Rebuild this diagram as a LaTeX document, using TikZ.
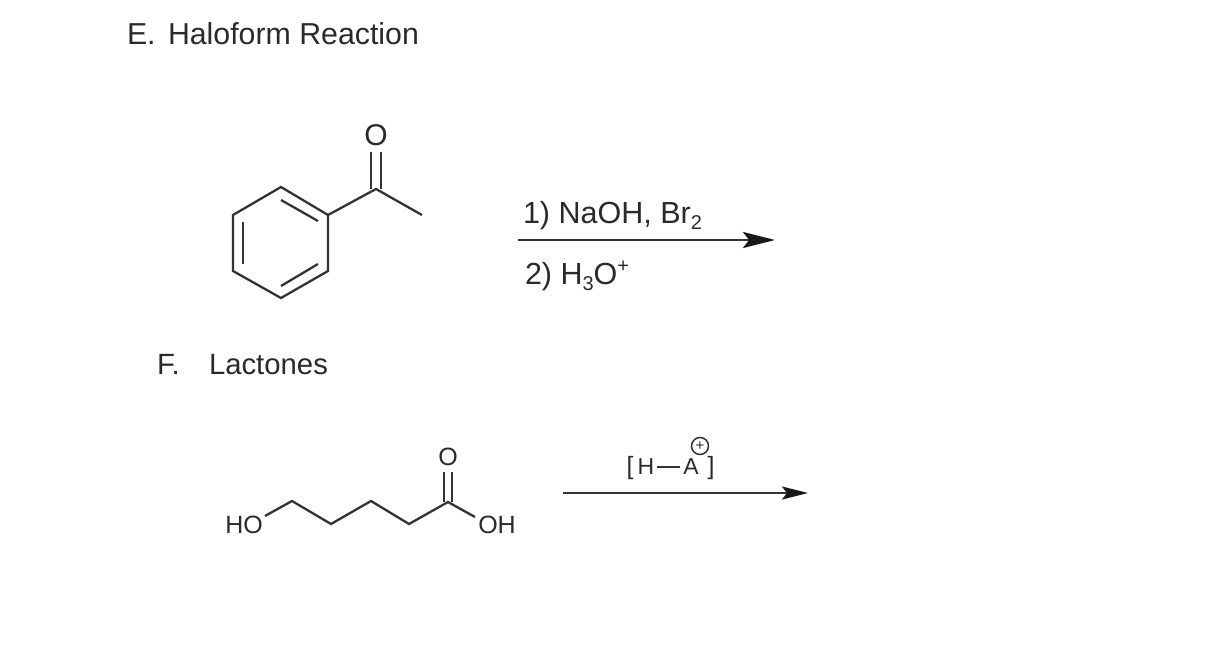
\documentclass[tikz,border=0pt]{standalone}
\usepackage{fontspec}
\setmainfont{Liberation Sans}
\usetikzlibrary{arrows.meta}
\definecolor{bondc}{HTML}{333333}
\definecolor{textc}{HTML}{2A2A2A}
\tikzset{
  bond/.style={draw=bondc,line width=2.3pt,line join=miter},
  rxnA/.style={draw=bondc,line width=2.1pt,-{Stealth[length=32pt,width=16pt,inset=6pt,color=black!90]}},
  rxnB/.style={draw=bondc,line width=2.1pt,-{Stealth[length=26pt,width=13pt,inset=5pt,color=black!90]}},
  heading/.style={anchor=base west,inner sep=0pt,outer sep=0pt,text=textc,font=\fontsize{30.3}{36}\selectfont},
  headingb/.style={anchor=base west,inner sep=0pt,outer sep=0pt,text=textc,font=\fontsize{29.3}{36}\selectfont},
  reagent/.style={anchor=base west,inner sep=0pt,outer sep=0pt,text=textc,font=\fontsize{30.5}{36}\selectfont},
  atom/.style={inner sep=0pt,outer sep=0pt,text=textc,font=\fontsize{30}{36}\selectfont},
  chainatom/.style={inner sep=0pt,outer sep=0pt,text=textc,font=\fontsize{25}{30}\selectfont},
  acidatom/.style={inner sep=0pt,outer sep=0pt,text=textc,font=\fontsize{23}{28}\selectfont},
  brk/.style={inner sep=0pt,outer sep=0pt,text=textc,font=\fontsize{25}{30}\selectfont},
}
\begin{document}
\begin{tikzpicture}[x=1pt,y=-1pt]
\useasboundingbox (0,0) rectangle (1223,658);
% headings
\node[heading] (titleE) at (127,45) {E.};
\node[heading] (titleEb) at (168,45) {Haloform Reaction};
\node[headingb] (titleFa) at (157,374) {F.};
\node[headingb] (titleFb) at (209,374) {Lactones};
% acetophenone
\coordinate (r1) at (281,187);
\coordinate (r2) at (328,215);
\coordinate (r3) at (328,271);
\coordinate (r4) at (281,298);
\coordinate (r5) at (233,271);
\coordinate (r6) at (233,215);
\coordinate (cc) at (376,189);
\coordinate (me) at (422,215);
\draw[bond] (r1) -- (r2) -- (r3) -- (r4) -- (r5) -- (r6) -- cycle;
\coordinate (i1a) at (281,200); \coordinate (i1b) at (318,221);
\coordinate (i2a) at (243,222); \coordinate (i2b) at (243,264);
\coordinate (i3a) at (281,286); \coordinate (i3b) at (318,264);
\draw[bond] (i1a) -- (i1b);
\draw[bond] (i2a) -- (i2b);
\draw[bond] (i3a) -- (i3b);
\draw[bond] (r2) -- (cc) -- (me);
\node[atom] (o1) at (376,135) {O};
\draw[bond] ([xshift=-5pt]cc) -- ([xshift=-5pt]cc |- 0,152);
\draw[bond] ([xshift=5pt]cc) -- ([xshift=5pt]cc |- 0,152);
% arrow 1
\node[reagent] (r1a) at (523,223) {1) NaOH, Br\raisebox{-0.2em}{\fontsize{20}{22}\selectfont 2}};
\node[reagent] (r1b) at (525,284) {2) H\raisebox{-0.2em}{\fontsize{20}{22}\selectfont 3}O\raisebox{0.38em}{\fontsize{20}{22}\selectfont +}};
\coordinate (a1s) at (518,240);
\coordinate (a1e) at (775,240);
\draw[rxnA] (a1s) -- (a1e);
% hydroxy acid
\node[chainatom] (ho) at (244,525) {HO};
\node[chainatom] (oh) at (497,525) {OH};
\node[chainatom] (o2) at (448,457) {O};
\coordinate (c1) at (292,501);
\coordinate (c2) at (331,524);
\coordinate (c3) at (371,501);
\coordinate (c4) at (409,524);
\coordinate (c5) at (448,502);
\coordinate (ho1) at (265,516);
\coordinate (oh1) at (475,517);
\draw[bond] (ho1) -- (c1) -- (c2) -- (c3) -- (c4) -- (c5) -- (oh1);
\draw[bond] ([xshift=-4pt]c5) -- ([xshift=-4pt]c5 |- 0,472);
\draw[bond] ([xshift=4pt]c5) -- ([xshift=4pt]c5 |- 0,472);
% arrow 2
\node[brk] (lb) at (630,468) {[};
\node[brk] (rb) at (711,468) {]};
\node[acidatom] (hh) at (646,467) {H};
\node[acidatom] (aa) at (691,467) {A};
\draw[bond] ([xshift=3pt]hh.east) -- ([xshift=-3pt]aa.west |- hh.east);
\node[draw=bondc,line width=1.5pt,circle,minimum size=17pt,inner sep=0pt,text=textc,font=\fontsize{15}{15}\selectfont] (plus) at (700,446) {+};
\coordinate (a2s) at (563,493);
\coordinate (a2e) at (808,493);
\draw[rxnB] (a2s) -- (a2e);
\end{tikzpicture}
\end{document}
